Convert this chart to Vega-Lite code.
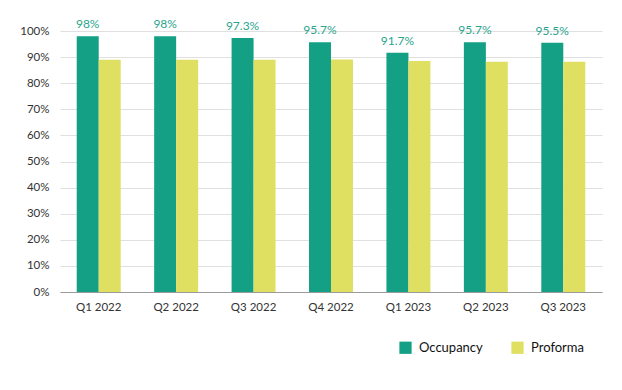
{
  "$schema": "https://vega.github.io/schema/vega-lite/v6.json",
  "width": 542,
  "height": 261,
  "autosize": {"type": "none"},
  "padding": {"left": 60, "top": 31, "right": 20, "bottom": 98},
  "config": {
    "view": {"stroke": null},
    "font": "Lato",
    "axis": {"labelFont": "Lato", "labelColor": "#333333", "labelFontSize": 11.5}
  },
  "data": {
    "values": [
      {"quarter": "Q1 2022", "series": "Occupancy", "value": 0.98},
      {"quarter": "Q1 2022", "series": "Proforma", "value": 0.89},
      {"quarter": "Q2 2022", "series": "Occupancy", "value": 0.98},
      {"quarter": "Q2 2022", "series": "Proforma", "value": 0.89},
      {"quarter": "Q3 2022", "series": "Occupancy", "value": 0.973},
      {"quarter": "Q3 2022", "series": "Proforma", "value": 0.89},
      {"quarter": "Q4 2022", "series": "Occupancy", "value": 0.957},
      {"quarter": "Q4 2022", "series": "Proforma", "value": 0.891},
      {"quarter": "Q1 2023", "series": "Occupancy", "value": 0.917},
      {"quarter": "Q1 2023", "series": "Proforma", "value": 0.885},
      {"quarter": "Q2 2023", "series": "Occupancy", "value": 0.957},
      {"quarter": "Q2 2023", "series": "Proforma", "value": 0.882},
      {"quarter": "Q3 2023", "series": "Occupancy", "value": 0.955},
      {"quarter": "Q3 2023", "series": "Proforma", "value": 0.882}
    ]
  },
  "encoding": {
    "x": {
      "field": "quarter", "type": "nominal", "sort": null,
      "scale": {"paddingInner": 0.432, "paddingOuter": 0.216},
      "axis": {"title": null, "labelAngle": 0, "ticks": false, "domainColor": "#9a9a9a", "labelPadding": 9, "labelFontSize": 11.5}
    },
    "xOffset": {"field": "series", "type": "nominal", "scale": {"domain": ["Occupancy", "Proforma"], "paddingInner": 0, "paddingOuter": 0}},
    "y": {
      "field": "value", "type": "quantitative",
      "scale": {"domain": [0, 1], "nice": false},
      "axis": {"title": null, "format": ".0%", "values": [0,0.1,0.2,0.3,0.4,0.5,0.6,0.7,0.8,0.9,1], "labelOverlap": false, "domain": false, "ticks": false, "gridColor": "#e0e0e0", "labelPadding": 11}
    }
  },
  "layer": [
    {
      "mark": {"type": "bar"},
      "encoding": {
        "color": {
          "field": "series", "type": "nominal",
          "scale": {"domain": ["Occupancy", "Proforma"], "range": ["#13a085", "#dfe062"]},
          "legend": {
            "title": null, "orient": "none", "direction": "horizontal",
            "legendX": 339, "legendY": 310,
            "symbolType": "square", "symbolSize": 150, "symbolStrokeWidth": 0,
            "labelFontSize": 13, "labelColor": "#111111", "labelFont": "Lato",
            "columnPadding": 28, "labelOffset": 7
          }
        }
      }
    },
    {
      "transform": [{"filter": "datum.series === 'Occupancy'"}],
      "mark": {"type": "text", "baseline": "bottom", "dy": -5, "fontSize": 12, "color": "#2aa58c"},
      "encoding": {
        "text": {"field": "value", "type": "quantitative", "format": ".1~%"}
      }
    }
  ]
}
